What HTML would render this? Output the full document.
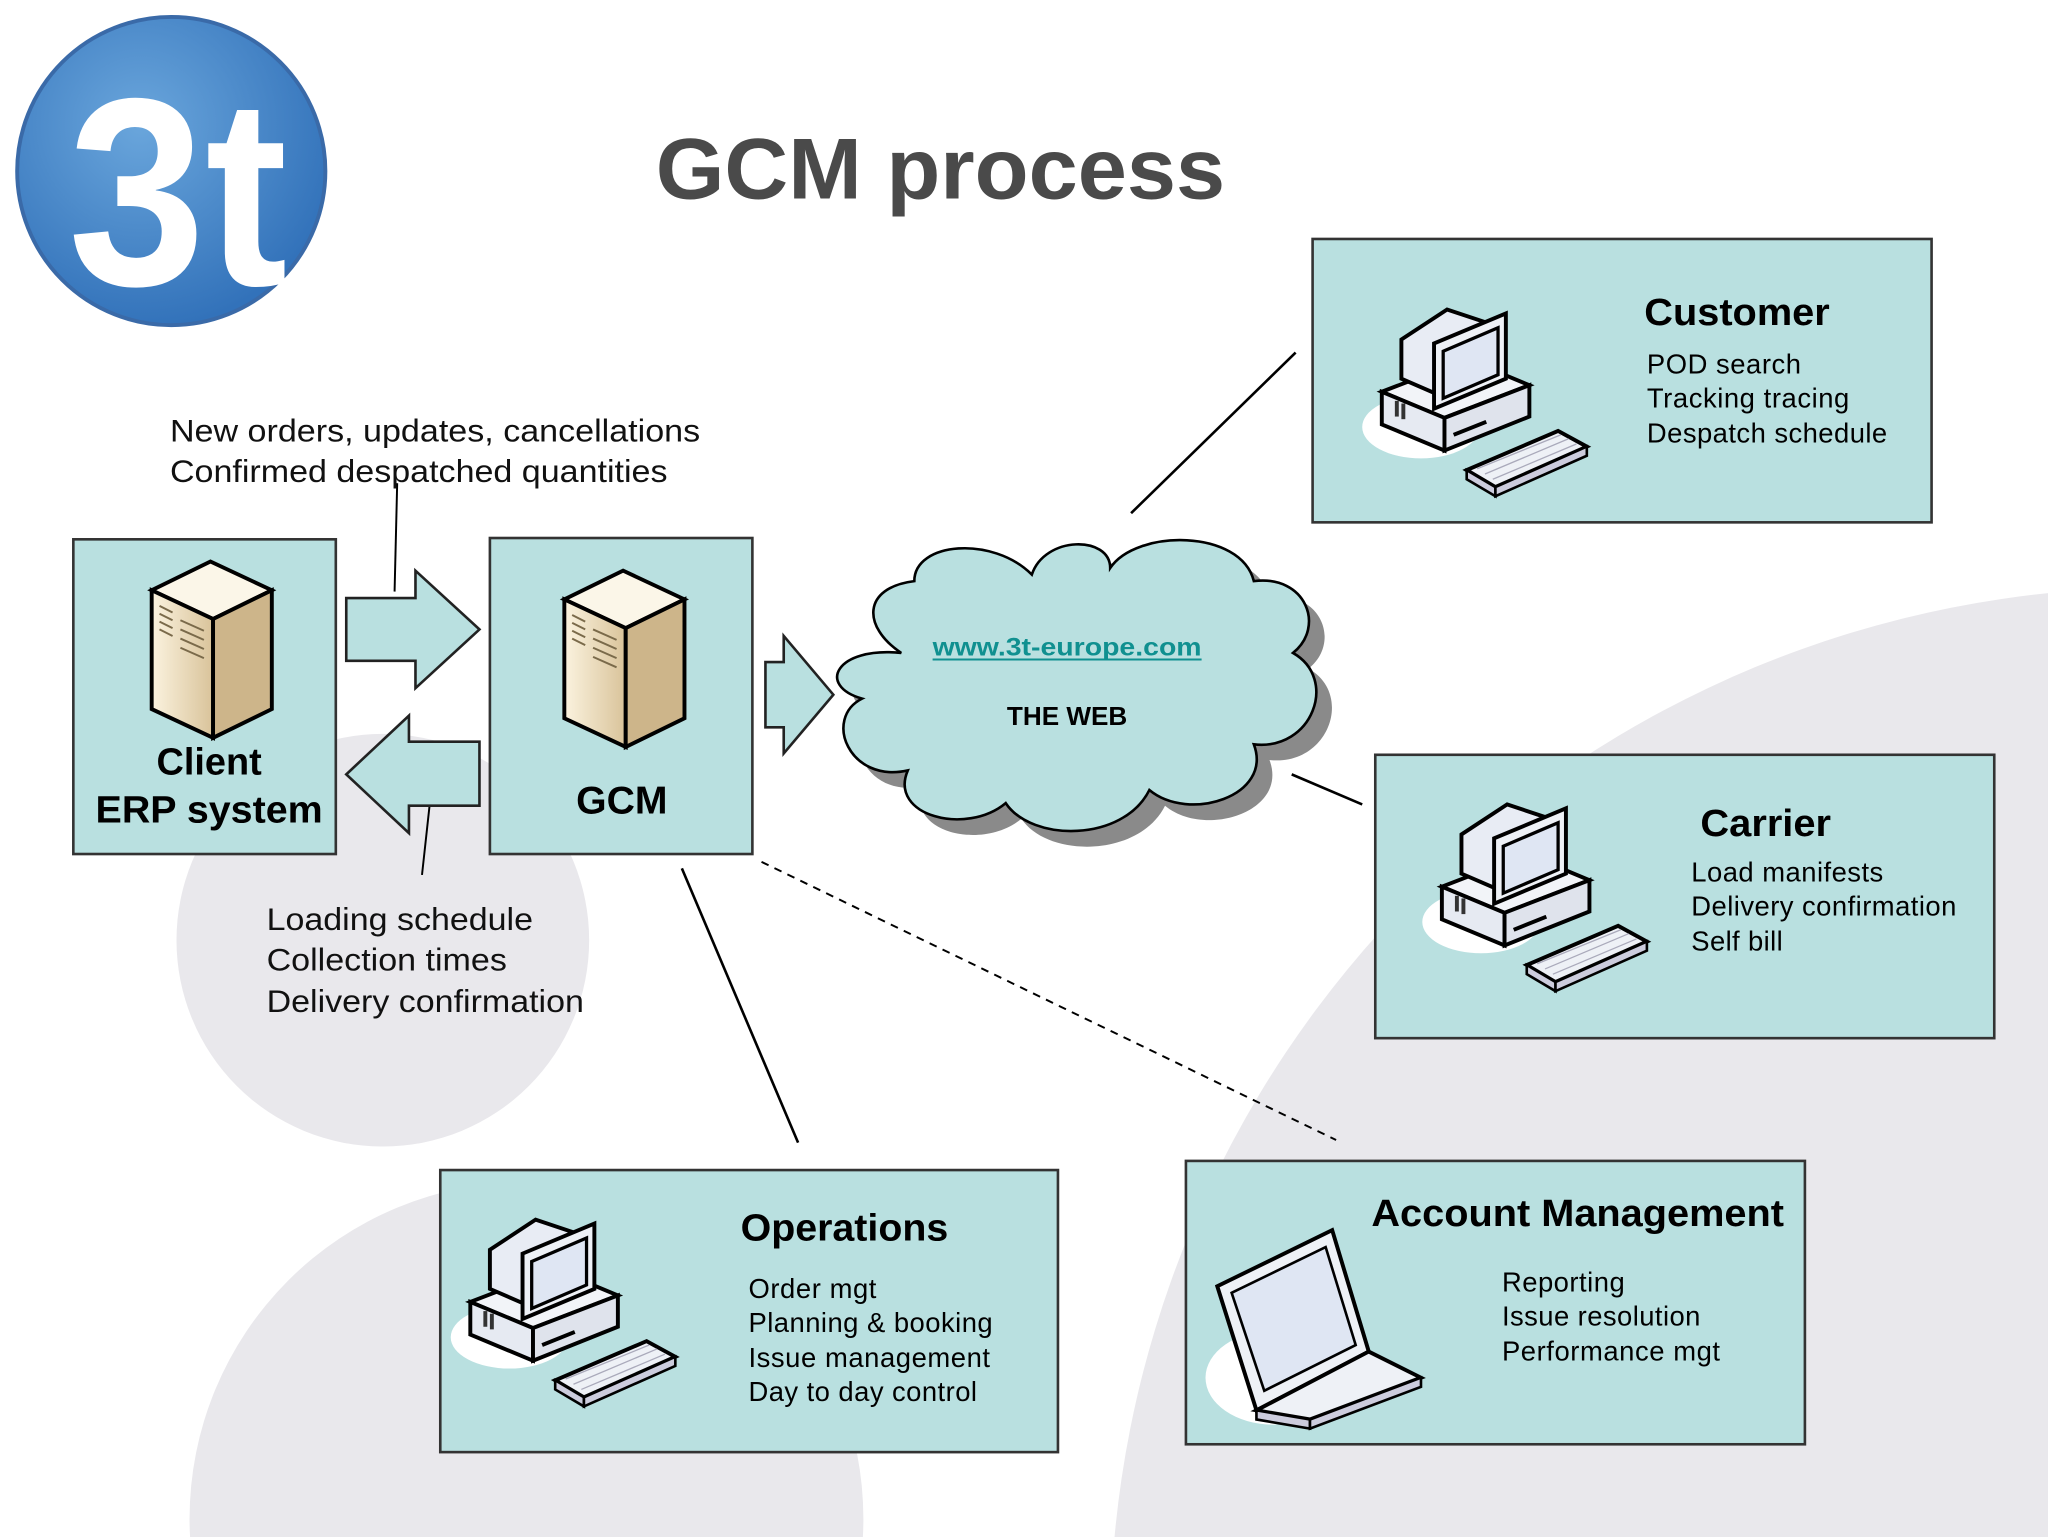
<!DOCTYPE html>
<html><head><meta charset="utf-8"><style>
html,body{margin:0;padding:0;background:#fff;width:2048px;height:1537px;overflow:hidden;}
svg{display:block;}
text{font-family:"Liberation Sans","DejaVu Sans",sans-serif;}
</style></head><body>
<svg width="2048" height="1537" viewBox="0 0 1568 1177" xmlns="http://www.w3.org/2000/svg">
<defs>
<radialGradient id="lg" cx="0.4" cy="0.35" r="0.7"><stop offset="0" stop-color="#6aa6dc"/><stop offset="1" stop-color="#2f6fb8"/></radialGradient>
<linearGradient id="cream" x1="0" y1="0" x2="1" y2="0"><stop offset="0" stop-color="#fbf3df"/><stop offset="1" stop-color="#d9c39a"/></linearGradient>
<g id="pc">
 <ellipse cx="45" cy="102" rx="45" ry="24" fill="#fff"/>
 <polygon points="15,75 80,50 128,70 63,95" fill="#f2f4f8" stroke="#000" stroke-width="3"/>
 <polygon points="15,75 63,95 63,120 15,100" fill="#e6eaf2" stroke="#000" stroke-width="3"/>
 <polygon points="63,95 128,70 128,94 63,120" fill="#dfe3ec" stroke="#000" stroke-width="3"/>
 <line x1="70" y1="108" x2="95" y2="98" stroke="#000" stroke-width="3"/>
 <rect x="25" y="82" width="3" height="12" fill="#333"/><rect x="30" y="84" width="3" height="12" fill="#333"/>
 <polygon points="30,35 65,12 95,22 95,60 60,78 30,65" fill="#e8ecf4" stroke="#000" stroke-width="3"/>
 <polygon points="55,38 110,15 110,65 55,88" fill="#eef1f6" stroke="#000" stroke-width="3"/>
 <polygon points="62,44 104,26 104,62 62,80" fill="#dfe6f3" stroke="#000" stroke-width="2.5"/>
 <polygon points="80,135 150,105 172,117 102,148" fill="#eef1f6" stroke="#000" stroke-width="3"/>
 <polygon points="80,135 102,148 102,155 80,142" fill="#ccd" stroke="#000" stroke-width="2"/>
 <polygon points="102,148 172,117 172,124 102,155" fill="#ccd" stroke="#000" stroke-width="2"/>
 <g stroke="#aab" stroke-width="1"><line x1="88" y1="134" x2="152" y2="108"/><line x1="94" y1="138" x2="158" y2="111"/><line x1="100" y1="142" x2="164" y2="115"/></g>
</g>
<g id="srv">
 <polygon points="0,22 45,0 92,22 47,44" fill="#fbf6e8" stroke="#000" stroke-width="3"/>
 <polygon points="0,22 47,44 47,135 0,113" fill="url(#cream)" stroke="#000" stroke-width="3"/>
 <polygon points="47,44 92,22 92,113 47,135" fill="#cdb58a" stroke="#000" stroke-width="3"/>
 <g stroke="#7a6a4a" stroke-width="1.5"><line x1="6" y1="34" x2="16" y2="39"/><line x1="6" y1="40" x2="16" y2="45"/><line x1="6" y1="46" x2="16" y2="51"/><line x1="6" y1="52" x2="16" y2="57"/><line x1="22" y1="45" x2="40" y2="53"/><line x1="22" y1="52" x2="40" y2="60"/><line x1="22" y1="59" x2="40" y2="67"/><line x1="22" y1="66" x2="40" y2="74"/></g>
</g>
</defs>
<circle cx="1650" cy="1250" r="800" fill="#e9e8ec"/>
<circle cx="403" cy="1163" r="258" fill="#e9e8ec"/>
<circle cx="293" cy="720" r="158" fill="#e9e8ec"/>
<circle cx="131" cy="131" r="118" fill="url(#lg)" stroke="#3a6aa8" stroke-width="3"/>
<text x="52" y="218" font-size="205" font-weight="bold" fill="#fff" textLength="168" lengthAdjust="spacingAndGlyphs">3t</text>
<text x="720" y="152" text-anchor="middle" font-size="66" font-weight="bold" fill="#4a4a4a" textLength="436" lengthAdjust="spacingAndGlyphs">GCM process</text>
<line x1="866" y1="393" x2="992" y2="270" stroke="#000" stroke-width="2"/>
<line x1="989" y1="593" x2="1043" y2="616" stroke="#000" stroke-width="2"/>
<line x1="522" y1="665" x2="611" y2="875" stroke="#000" stroke-width="2"/>
<line x1="583" y1="660" x2="1023" y2="873" stroke="#000" stroke-width="1.5" stroke-dasharray="6,5"/>
<line x1="304" y1="370" x2="302" y2="453" stroke="#000" stroke-width="1.5"/>
<line x1="329" y1="615" x2="323" y2="670" stroke="#000" stroke-width="1.5"/>
<g fill="#b9e0e0" stroke="#333" stroke-width="2">
<rect x="56" y="413" width="201" height="241"/>
<rect x="375" y="412" width="201" height="242"/>
<rect x="1005" y="183" width="474" height="217"/>
<rect x="1053" y="578" width="474" height="217"/>
<rect x="337" y="896" width="473" height="216"/>
<rect x="908" y="889" width="474" height="217"/>
</g>
<g fill="#b9e0e0" stroke="#222" stroke-width="2">
<polygon points="265,458 318,458 318,437 367,482 318,527 318,506 265,506"/>
<polygon points="367,568 313,568 313,548 265,593 313,638 313,617 367,617"/>
<polygon points="586,507 600,507 600,487 638,532 600,577 600,557 586,557"/>
</g>
<use href="#srv" x="116" y="430"/>
<use href="#srv" x="432" y="437"/>
<text x="160" y="593" text-anchor="middle" font-size="29" font-weight="bold">Client</text>
<text x="160" y="630" text-anchor="middle" font-size="29" font-weight="bold" textLength="174" lengthAdjust="spacingAndGlyphs">ERP system</text>
<text x="476" y="623" text-anchor="middle" font-size="30" font-weight="bold">GCM</text>
<g transform="translate(12,12)"><path d="M690,500 C660,480 660,450 700,445 C700,415 760,410 790,440 C800,410 850,410 850,435 C870,405 950,405 960,445 C1000,440 1015,480 990,500 C1025,520 1005,575 960,570 C975,610 910,630 880,605 C860,645 790,645 770,615 C740,640 680,625 695,590 C650,600 630,550 660,535 C625,525 640,495 690,500 Z" fill="#8a8a8a"/></g>
<path d="M690,500 C660,480 660,450 700,445 C700,415 760,410 790,440 C800,410 850,410 850,435 C870,405 950,405 960,445 C1000,440 1015,480 990,500 C1025,520 1005,575 960,570 C975,610 910,630 880,605 C860,645 790,645 770,615 C740,640 680,625 695,590 C650,600 630,550 660,535 C625,525 640,495 690,500 Z" fill="#b9e0e0" stroke="#000" stroke-width="2"/>
<text x="817" y="502" text-anchor="middle" font-size="19" font-weight="bold" fill="#109090" textLength="206" lengthAdjust="spacingAndGlyphs">www.3t-europe.com</text>
<line x1="714" y1="505" x2="920" y2="505" stroke="#109090" stroke-width="1.5"/>
<text x="817" y="555" text-anchor="middle" font-size="20" font-weight="bold">THE WEB</text>
<g font-size="24" fill="#111">
<text x="130" y="338" textLength="406" lengthAdjust="spacingAndGlyphs">New orders, updates, cancellations</text>
<text x="130" y="369" textLength="381" lengthAdjust="spacingAndGlyphs">Confirmed despatched quantities</text>
<text x="204" y="712" textLength="204" lengthAdjust="spacingAndGlyphs">Loading schedule</text>
<text x="204" y="743" textLength="184" lengthAdjust="spacingAndGlyphs">Collection times</text>
<text x="204" y="775" textLength="243" lengthAdjust="spacingAndGlyphs">Delivery confirmation</text>
</g>
<use href="#pc" x="1043" y="225"/>
<text x="1259" y="249" font-size="29" font-weight="bold" textLength="142" lengthAdjust="spacingAndGlyphs">Customer</text>
<g font-size="21"><text x="1261" y="286" textLength="118">POD search</text><text x="1261" y="312" textLength="155">Tracking tracing</text><text x="1261" y="339" textLength="184">Despatch schedule</text></g>
<use href="#pc" x="1089" y="604"/>
<text x="1302" y="640" font-size="29" font-weight="bold" textLength="100" lengthAdjust="spacingAndGlyphs">Carrier</text>
<g font-size="21"><text x="1295" y="675" textLength="147">Load manifests</text><text x="1295" y="701" textLength="203">Delivery confirmation</text><text x="1295" y="728" textLength="70">Self bill</text></g>
<use href="#pc" x="345" y="922"/>
<text x="567" y="950" font-size="29" font-weight="bold" textLength="159" lengthAdjust="spacingAndGlyphs">Operations</text>
<g font-size="21"><text x="573" y="994" textLength="98">Order mgt</text><text x="573" y="1020" textLength="187">Planning &amp; booking</text><text x="573" y="1047" textLength="185">Issue management</text><text x="573" y="1073" textLength="175">Day to day control</text></g>
<ellipse cx="975" cy="1055" rx="52" ry="36" fill="#fff"/>
<polygon points="932,985 1020,942 1048,1035 962,1080" fill="#eef1f6" stroke="#000" stroke-width="3"/>
<polygon points="943,990 1015,955 1038,1030 968,1065" fill="#dfe6f3" stroke="#000" stroke-width="2"/>
<polygon points="962,1080 1048,1035 1088,1055 1003,1087" fill="#eef1f6" stroke="#000" stroke-width="3"/>
<polygon points="962,1080 1003,1087 1003,1094 962,1087" fill="#ccd" stroke="#000" stroke-width="2"/>
<polygon points="1003,1087 1088,1055 1088,1062 1003,1094" fill="#ccd" stroke="#000" stroke-width="2"/>
<text x="1050" y="939" font-size="29" font-weight="bold" textLength="316" lengthAdjust="spacingAndGlyphs">Account Management</text>
<g font-size="21"><text x="1150" y="989" textLength="94">Reporting</text><text x="1150" y="1015" textLength="152">Issue resolution</text><text x="1150" y="1042" textLength="167">Performance mgt</text></g>
</svg>
</body></html>
